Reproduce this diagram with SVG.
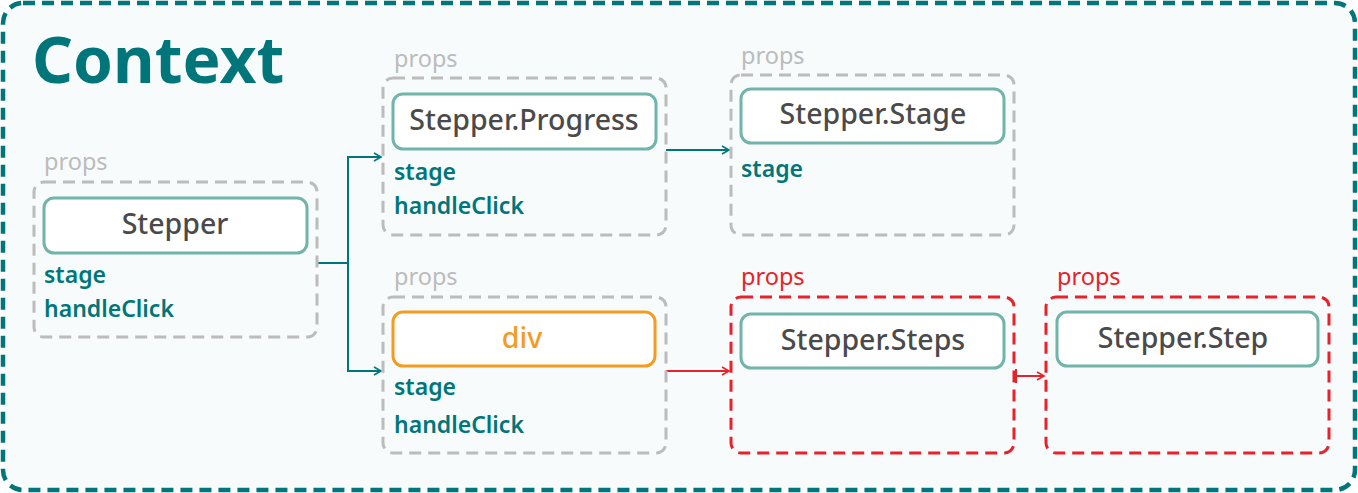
<svg xmlns="http://www.w3.org/2000/svg" width="1358" height="493" viewBox="0 0 1358 493">
<defs>
<style>
text{font-family:"Noto Sans","Open Sans",sans-serif}
.outer{fill:none;stroke:#bcbcbc;stroke-width:3;stroke-dasharray:12 7}
.red{fill:none;stroke:#e8222a;stroke-width:3;stroke-dasharray:12 7}
.inner{fill:#fff;stroke:#70b4aa;stroke-width:3}
.name{font-size:28.5px;fill:#4a4a4a;text-anchor:middle;dominant-baseline:central;font-weight:500}
.prop{font-size:23px;fill:#00767a;font-weight:600;dominant-baseline:central}
.pl{font-size:23.5px;fill:#bcbcbc;dominant-baseline:central}
.plr{font-size:23.5px;fill:#e8222a;dominant-baseline:central}
.ct{fill:none;stroke:#00767a;stroke-width:2}
.cr{fill:none;stroke:#e8222a;stroke-width:2}
</style>
<marker id="at" markerWidth="10" markerHeight="10" refX="8" refY="5" orient="auto" markerUnits="userSpaceOnUse"><path d="M1,1 L8,5 L1,9" fill="none" stroke="#00767a" stroke-width="1.6"/></marker>
<marker id="ar" markerWidth="10" markerHeight="10" refX="8" refY="5" orient="auto" markerUnits="userSpaceOnUse"><path d="M1,1 L8,5 L1,9" fill="none" stroke="#e8222a" stroke-width="1.6"/></marker>
</defs>
<rect x="3" y="3" width="1352" height="487" rx="20" fill="#f7fbfb" stroke="#00767a" stroke-width="4.5" stroke-dasharray="12 7"/>
<text x="32" y="58" font-size="64" font-weight="700" fill="#00767a" dominant-baseline="central">Context</text>
<g id="connectors">
<path class="ct" d="M317,263 H348 V157 H381" marker-end="url(#at)"/>
<path class="ct" d="M348,263 V371 H381" marker-end="url(#at)"/>
<path class="ct" d="M666,150 H729" marker-end="url(#at)"/>
<path class="cr" d="M666,371 H729" marker-end="url(#ar)"/>
<path class="cr" d="M1016,376 H1044" marker-end="url(#ar)"/>
<path class="cr" d="M1016,369 V383"/>
</g>
<g id="stepper">
<text class="pl" x="44" y="161">props</text>
<rect class="outer" x="34" y="182" width="283" height="155" rx="10"/>
<rect class="inner" x="44" y="198" width="263" height="55" rx="10"/>
<text class="name" x="175" y="223">Stepper</text>
<text class="prop" x="44" y="274">stage</text>
<text class="prop" x="44" y="308">handleClick</text>
</g>
<g id="progress">
<text class="pl" x="394" y="58">props</text>
<rect class="outer" x="383" y="78" width="283" height="157" rx="10"/>
<rect class="inner" x="393" y="94" width="263" height="55" rx="10"/>
<text class="name" x="524" y="119">Stepper.Progress</text>
<text class="prop" x="394" y="171">stage</text>
<text class="prop" x="394" y="205">handleClick</text>
</g>
<g id="stage">
<text class="pl" x="741" y="55">props</text>
<rect class="outer" x="731" y="75" width="283" height="160" rx="10"/>
<rect class="inner" x="741" y="89" width="263" height="54" rx="10"/>
<text class="name" x="873" y="113">Stepper.Stage</text>
<text class="prop" x="741" y="168">stage</text>
</g>
<g id="div">
<text class="pl" x="394" y="276">props</text>
<rect class="outer" x="383" y="297" width="283" height="156" rx="10"/>
<rect x="393" y="312" width="262" height="54" rx="10" fill="#fff" stroke="#f39c1f" stroke-width="3"/>
<text class="name" x="522" y="337" style="fill:#f39c1f">div</text>
<text class="prop" x="394" y="386">stage</text>
<text class="prop" x="394" y="424">handleClick</text>
</g>
<g id="steps">
<text class="plr" x="741" y="276">props</text>
<rect class="red" x="731" y="297" width="283" height="156" rx="10"/>
<rect class="inner" x="741" y="314" width="263" height="54" rx="10"/>
<text class="name" x="873" y="339">Stepper.Steps</text>
</g>
<g id="step">
<text class="plr" x="1057" y="276">props</text>
<rect class="red" x="1046" y="297" width="283" height="156" rx="10"/>
<rect class="inner" x="1057" y="312" width="261" height="54" rx="10"/>
<text class="name" x="1183" y="337">Stepper.Step</text>
</g>
</svg>
